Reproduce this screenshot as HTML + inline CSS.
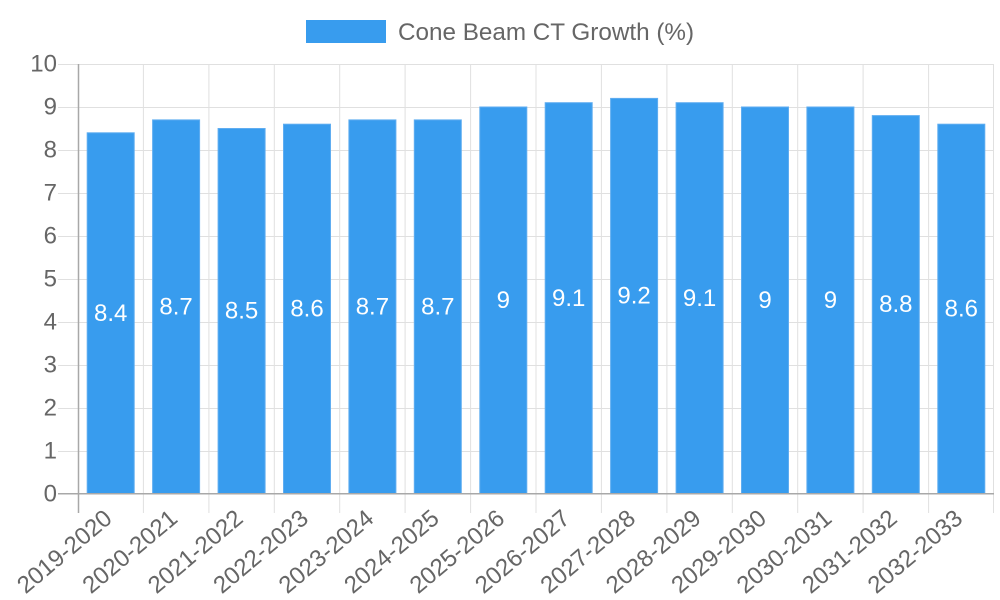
<!DOCTYPE html>
<html>
<head>
<meta charset="utf-8">
<style>
html,body{margin:0;padding:0;background:#fff;}
svg{display:block;}
text{font-family:"Liberation Sans",Arial,sans-serif;}
</style>
</head>
<body>
<svg width="1000" height="600" viewBox="0 0 1000 600" xmlns="http://www.w3.org/2000/svg">
<!-- legend -->
<rect x="306" y="20" width="80" height="23" fill="#389cee"/>
<text x="398" y="40" font-size="24.25" fill="#666">Cone Beam CT Growth (%)</text>

<!-- horizontal grid -->
<g stroke="#e0e0e0" stroke-width="1">
<line x1="58" y1="64.5" x2="994" y2="64.5"/>
<line x1="58" y1="107.5" x2="994" y2="107.5"/>
<line x1="58" y1="150.5" x2="994" y2="150.5"/>
<line x1="58" y1="193.5" x2="994" y2="193.5"/>
<line x1="58" y1="236.5" x2="994" y2="236.5"/>
<line x1="58" y1="279.5" x2="994" y2="279.5"/>
<line x1="58" y1="322.5" x2="994" y2="322.5"/>
<line x1="58" y1="365.5" x2="994" y2="365.5"/>
<line x1="58" y1="408.5" x2="994" y2="408.5"/>
<line x1="58" y1="451.5" x2="994" y2="451.5"/>
</g>
<!-- vertical grid -->
<g stroke="#e0e0e0" stroke-width="1">
<line x1="143.4" y1="64" x2="143.4" y2="513"/>
<line x1="208.9" y1="64" x2="208.9" y2="513"/>
<line x1="274.3" y1="64" x2="274.3" y2="513"/>
<line x1="339.7" y1="64" x2="339.7" y2="513"/>
<line x1="405.1" y1="64" x2="405.1" y2="513"/>
<line x1="470.6" y1="64" x2="470.6" y2="513"/>
<line x1="536" y1="64" x2="536" y2="513"/>
<line x1="601.4" y1="64" x2="601.4" y2="513"/>
<line x1="666.9" y1="64" x2="666.9" y2="513"/>
<line x1="732.3" y1="64" x2="732.3" y2="513"/>
<line x1="797.7" y1="64" x2="797.7" y2="513"/>
<line x1="863.1" y1="64" x2="863.1" y2="513"/>
<line x1="928.6" y1="64" x2="928.6" y2="513"/>
<line x1="993.5" y1="64" x2="993.5" y2="513"/>
</g>

<!-- bars -->
<g fill="#389cee" stroke="#5fadf1" stroke-width="1">
<rect x="87.2" y="132.8" width="47" height="361"/>
<rect x="152.6" y="119.9" width="47" height="373.9"/>
<rect x="218.1" y="128.5" width="47" height="365.3"/>
<rect x="283.5" y="124.2" width="47" height="369.6"/>
<rect x="348.9" y="119.9" width="47" height="373.9"/>
<rect x="414.3" y="119.9" width="47" height="373.9"/>
<rect x="479.8" y="107" width="47" height="386.8"/>
<rect x="545.2" y="102.7" width="47" height="391.1"/>
<rect x="610.6" y="98.4" width="47" height="395.4"/>
<rect x="676.1" y="102.7" width="47" height="391.1"/>
<rect x="741.5" y="107" width="47" height="386.8"/>
<rect x="806.9" y="107" width="47" height="386.8"/>
<rect x="872.3" y="115.6" width="47" height="378.2"/>
<rect x="937.8" y="124.2" width="47" height="369.6"/>
</g>

<!-- axes -->
<line x1="78.5" y1="64" x2="78.5" y2="513" stroke="#a8a8a8" stroke-width="1.5"/>
<line x1="58" y1="493.8" x2="994" y2="493.8" stroke="#a8a8a8" stroke-width="1.5"/>

<!-- y tick labels -->
<g font-size="24" fill="#666" text-anchor="end" dominant-baseline="central">
<text x="57" y="64">10</text>
<text x="57" y="107">9</text>
<text x="57" y="150">8</text>
<text x="57" y="193">7</text>
<text x="57" y="236">6</text>
<text x="57" y="279">5</text>
<text x="57" y="322">4</text>
<text x="57" y="365">3</text>
<text x="57" y="408">2</text>
<text x="57" y="451">1</text>
<text x="57" y="494">0</text>
</g>

<!-- bar value labels -->
<g font-size="24" fill="#fff" text-anchor="middle" dominant-baseline="central">
<text x="110.7" y="313.3">8.4</text>
<text x="176.1" y="306.9">8.7</text>
<text x="241.6" y="311.2">8.5</text>
<text x="307" y="309">8.6</text>
<text x="372.4" y="306.9">8.7</text>
<text x="437.8" y="306.9">8.7</text>
<text x="503.3" y="300.4">9</text>
<text x="568.7" y="298.3">9.1</text>
<text x="634.1" y="296.1">9.2</text>
<text x="699.6" y="298.3">9.1</text>
<text x="765" y="300.4">9</text>
<text x="830.4" y="300.4">9</text>
<text x="895.8" y="304.7">8.8</text>
<text x="961.3" y="309">8.6</text>
</g>

<!-- x tick labels -->
<g font-size="24" fill="#666" text-anchor="end" dominant-baseline="central">
<text transform="translate(108.7,515) rotate(-40)">2019-2020</text>
<text transform="translate(174.1,515) rotate(-40)">2020-2021</text>
<text transform="translate(239.6,515) rotate(-40)">2021-2022</text>
<text transform="translate(305,515) rotate(-40)">2022-2023</text>
<text transform="translate(370.4,515) rotate(-40)">2023-2024</text>
<text transform="translate(435.8,515) rotate(-40)">2024-2025</text>
<text transform="translate(501.3,515) rotate(-40)">2025-2026</text>
<text transform="translate(566.7,515) rotate(-40)">2026-2027</text>
<text transform="translate(632.1,515) rotate(-40)">2027-2028</text>
<text transform="translate(697.6,515) rotate(-40)">2028-2029</text>
<text transform="translate(763,515) rotate(-40)">2029-2030</text>
<text transform="translate(828.4,515) rotate(-40)">2030-2031</text>
<text transform="translate(893.8,515) rotate(-40)">2031-2032</text>
<text transform="translate(959.3,515) rotate(-40)">2032-2033</text>
</g>
</svg>
</body>
</html>
